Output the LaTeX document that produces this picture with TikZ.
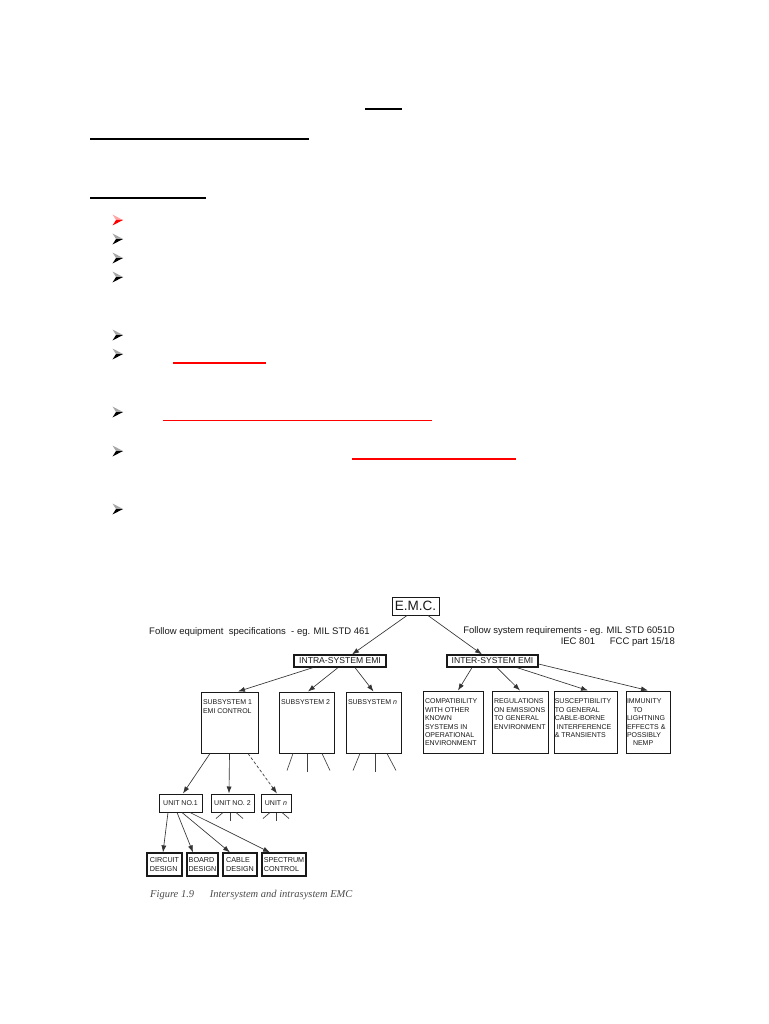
\documentclass[tikz,border=0pt]{standalone}
\usepackage{fontspec}
\setmainfont{Liberation Sans}
\newfontfamily\capfont{Liberation Serif}
\usetikzlibrary{arrows.meta}
\tikzset{
  box/.style={draw=black!90, line width=1pt, inner sep=0pt, fill=white, text=black!90},
  tall/.style={box, inner xsep=2pt, inner ysep=0pt, font=\fontsize{7}{8.4}\selectfont},
  unitbox/.style={box, minimum height=18pt, font=\fontsize{7}{8}\selectfont},
  leafbox/.style={box, line width=1.2pt, minimum height=23pt, align=left, font=\fontsize{7.2}{9.5}\selectfont},
  hdrbox/.style={box, line width=1.2pt, minimum height=12pt, font=\fontsize{8.6}{10}\selectfont},
  arr/.style={draw=black!80, line width=0.65pt, -{Latex[length=7pt,width=5pt]}},
  spoke/.style={draw=black!75, line width=0.65pt},
  rule/.style={line width=1.5pt, black},
  redrule/.style={line width=1.5pt, red},
  lbl/.style={font=\fontsize{9.5}{11}\selectfont, text=black!90, inner sep=0pt}
}
\newcommand\tbox[3]{\parbox[c][#2][t]{#1}{\raggedright\vspace*{8pt}#3}}
\begin{document}
\begin{tikzpicture}[x=1pt,y=-1pt]
\useasboundingbox (0,0) rectangle (768,1024);
\fill[white] (0,0) rectangle (768,1024);

% page text rules
\draw[rule] (365,109) -- (402,109);
\draw[rule] (90,139) -- (309,139);
\draw[rule] (90,198) -- (206,198);
\draw[redrule] (173,363) -- (266,363);
\draw[red, line width=1pt] (163,420) -- (432,420);
\draw[redrule] (352,459) -- (516,459);

% bullets
\foreach \y/\c in {220/red,239/black,258/black,277/black,335/black,354/black,412/black,451/black,509/black}{
  \fill[\c!35] (112.5,\y-5.5) -- (123,\y) -- (116,\y) -- cycle;
  \fill[\c] (112.5,\y+5.5) -- (123,\y) -- (116,\y) -- cycle;
}

% diagram nodes
\node[box, minimum width=47pt, minimum height=18pt, font=\fontsize{13.5}{15}\selectfont] (emc) at (415.5,606) {E.M.C.};
\node[lbl, anchor=west] (lfol) at (149,632) {Follow equipment\ \ specifications\ \ - eg. MIL STD 461};
\node[lbl, anchor=north east, align=right] (rfol) at (675,626.5) {Follow system requirements - eg. MIL STD 6051D\\IEC 801\quad\ \ FCC part 15/18};
\node[hdrbox, minimum width=92pt] (intra) at (340,661) {INTRA-SYSTEM EMI};
\node[hdrbox, minimum width=91pt] (inter) at (492.5,661) {INTER-SYSTEM EMI};

\node[tall] (sub1) at (229.5,722.5) {\tbox{53pt}{61pt}{SUBSYSTEM 1\\EMI CONTROL}};
\node[tall] (sub2) at (306.5,722.5) {\tbox{51pt}{61pt}{SUBSYSTEM 2}};
\node[tall] (subn) at (373.5,722.5) {\tbox{51pt}{61pt}{SUBSYSTEM \textit{n}}};

\node[tall] (comp) at (453,722) {\tbox{56pt}{62pt}{COMPATIBILITY\\WITH OTHER\\KNOWN\\SYSTEMS IN\\OPERATIONAL\\ENVIRONMENT}};
\node[tall] (regu) at (520,722) {\tbox{52pt}{62pt}{REGULATIONS\\ON EMISSIONS\\TO GENERAL\\ENVIRONMENT}};
\node[tall, inner xsep=0.8pt] (susc) at (585.5,722) {\tbox{61.4pt}{62pt}{SUSCEPTIBILITY\\TO GENERAL\\CABLE-BORNE\\\hspace*{2pt}INTERFERENCE\\\& TRANSIENTS}};
\node[tall, inner xsep=1pt] (immu) at (648,722) {\tbox{42pt}{62pt}{IMMUNITY\\\hspace*{6pt}TO\\LIGHTNING\\EFFECTS \&\\POSSIBLY\\\hspace*{6pt}NEMP}};

\node[unitbox, minimum width=43pt] (unit1) at (180.5,803) {UNIT NO.1};
\node[unitbox, minimum width=43pt] (unit2) at (232.5,803) {UNIT NO. 2};
\node[unitbox, minimum width=30pt] (unitn) at (276,803) {UNIT \textit{n}};

\node[leafbox, minimum width=35pt] (circ) at (164.5,864.5) {CIRCUIT\\DESIGN};
\node[leafbox, minimum width=31pt] (board) at (202.5,864.5) {BOARD\\DESIGN};
\node[leafbox, minimum width=34pt] (cable) at (240,864.5) {CABLE\\DESIGN};
\node[leafbox, minimum width=44pt] (spec) at (284,864.5) {SPECTRUM\\CONTROL};

\node[anchor=west, inner sep=0pt, text=black!70, font=\capfont\itshape\fontsize{10.5}{12}\selectfont] (cap) at (150,895) {Figure 1.9\quad\ \ Intersystem and intrasystem EMC};

% connectors
\draw[arr] ([xshift=-8.5pt]emc.south) -- ([xshift=12pt]intra.north);
\draw[arr] ([xshift=12.5pt]emc.south) -- ([xshift=-10.5pt]inter.north);

\draw[arr] ([xshift=-27pt]intra.south) -- ([xshift=8.5pt]sub1.north);
\draw[arr] ([xshift=-2pt]intra.south) -- ([xshift=1.5pt]sub2.north);
\draw[arr] ([xshift=15pt]intra.south) -- (subn.north);

\draw[arr] ([xshift=-20.5pt]inter.south) -- ([xshift=5pt]comp.north);
\draw[arr] ([xshift=4.5pt]inter.south) -- (regu.north);
\draw[arr] ([xshift=24.5pt]inter.south) -- ([xshift=2.5pt]susc.north);
\draw[arr] ([yshift=-3pt]inter.east) -- (immu.north);

\draw[arr] ([xshift=-19.5pt]sub1.south) -- ([xshift=2.5pt]unit1.north);
\draw[arr] (sub1.south) -- ([xshift=-3.5pt]unit2.north);
\draw[arr, dash pattern=on 3pt off 2pt] ([xshift=18.5pt]sub1.south) -- ([xshift=1pt]unitn.north);

\draw[arr] ([xshift=-12.5pt]unit1.south) -- ([xshift=-1.5pt]circ.north);
\draw[arr] ([xshift=-3.5pt]unit1.south) -- ([xshift=-9.5pt]board.north);
\draw[arr] ([xshift=1.5pt]unit1.south) -- ([xshift=-10pt]cable.north);
\draw[arr] ([xshift=9.5pt]unit1.south) -- ([xshift=-14pt]spec.north);

% spokes
\draw[spoke] ([xshift=-13.5pt]sub2.south) -- ++(-6,17);
\draw[spoke] ([xshift=0.5pt]sub2.south) -- ++(0,18);
\draw[spoke] ([xshift=15.5pt]sub2.south) -- ++(8,17);
\draw[spoke] ([xshift=-13.5pt]subn.south) -- ++(-7,17);
\draw[spoke] ([xshift=1.5pt]subn.south) -- ++(0,18);
\draw[spoke] ([xshift=13.5pt]subn.south) -- ++(9,17);
\draw[spoke] ([xshift=-9.5pt]unit2.south) -- ++(-7,6);
\draw[spoke] ([xshift=-2.5pt]unit2.south) -- ++(0,8);
\draw[spoke] ([xshift=3.5pt]unit2.south) -- ++(7,6);
\draw[spoke] ([xshift=-6pt]unitn.south) -- ++(-7,6);
\draw[spoke] (unitn.south) -- ++(0,8);
\draw[spoke] ([xshift=6pt]unitn.south) -- ++(7,6);
\end{tikzpicture}
\end{document}
